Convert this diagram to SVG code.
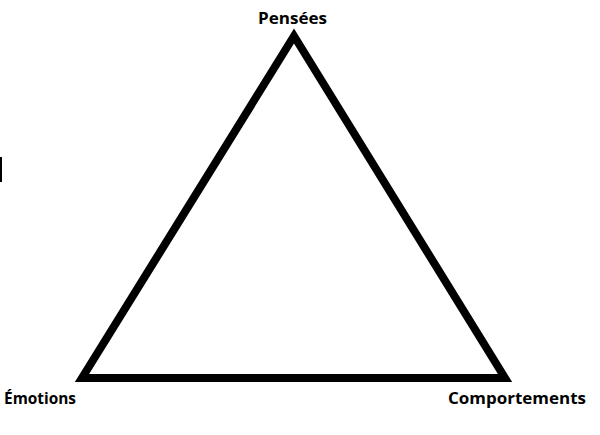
<svg xmlns="http://www.w3.org/2000/svg" width="600" height="435" viewBox="0 0 600 435">
<style>
.lbl{font-family:"Open Sans","Noto Sans","DejaVu Sans",sans-serif;font-weight:bold;font-size:16px;fill:#000;text-anchor:middle}
.tri{fill:#fff;stroke:#000;stroke-width:8;stroke-linejoin:miter;stroke-miterlimit:10}
</style>
<rect width="600" height="435" fill="#fff"/>
<g id="connectors">
<polygon class="tri" points="294,36 505,378 82,378"/>
<line x1="1" y1="157" x2="1" y2="182" stroke="#000" stroke-width="2"/>
</g>
<g id="node-pensees"><text class="lbl" x="292.5" y="24" textLength="69" lengthAdjust="spacingAndGlyphs">Pensées</text></g>
<g id="node-emotions"><text class="lbl" x="40" y="404" textLength="72" lengthAdjust="spacingAndGlyphs">Émotions</text></g>
<g id="node-comportements"><text class="lbl" x="517" y="404" textLength="138" lengthAdjust="spacingAndGlyphs">Comportements</text></g>
</svg>
